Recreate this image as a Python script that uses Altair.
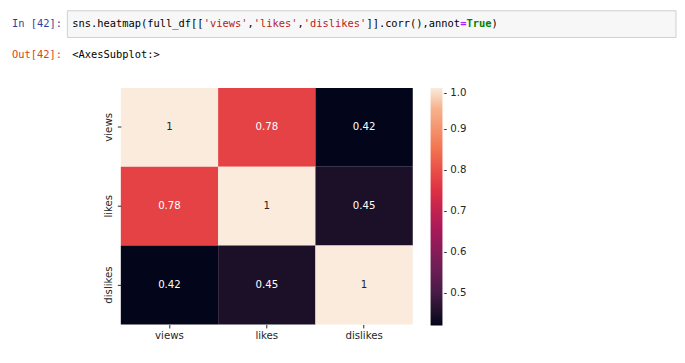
import altair as alt
import pandas as pd

# ---- data ----
cols = ["views", "likes", "dislikes"]
corr_views = [1.0, 0.78, 0.42]
corr_likes = [0.78, 1.0, 0.45]
corr_dislikes = [0.42, 0.45, 1.0]
legend_ticks = [0.5, 0.6, 0.7, 0.8, 0.9, 1.0]

in_prompt = "In [42]:"
out_prompt = "Out[42]:"
out_text = "<AxesSubplot:>"
code_segments = ["sns.heatmap(full_df[[", "'views'", ",", "'likes'", ",",
                 "'dislikes'", "]].corr(),annot", "=", "True", ")"]
code_kinds = ["plain", "str", "plain", "str", "plain", "str", "plain", "op", "kw", "plain"]

rows = []
for r, vals in zip(cols, [corr_views, corr_likes, corr_dislikes]):
    for c, v in zip(cols, vals):
        rows.append({"row": r, "col": c, "value": v})
df = pd.DataFrame(rows)

# ---- rocket colormap ----
rocket = ["#03051A", "#1A1027", "#35193E", "#701F57", "#AD1759", "#E13342",
          "#F37651", "#F6B48F", "#FAEBDD"]
stops = [0, 0.05, 1 / 12, 3 / 12, 5 / 12, 7 / 12, 9 / 12, 11 / 12, 1]
lo, hi = float(df["value"].min()), float(df["value"].max())
domain = [lo + p * (hi - lo) for p in stops]

FONT = "DejaVu Sans"
MONO = "DejaVu Sans Mono"
FS = 10.3
TXT = "#262626"

base = alt.Chart(df).encode(
    x=alt.X("col:N", sort=cols, title=None,
            scale=alt.Scale(paddingInner=0, paddingOuter=0),
            axis=alt.Axis(domain=False, grid=False, labelAngle=0, tickSize=3.5,
                          tickColor=TXT, labelColor=TXT, labelFont=FONT,
                          labelFontSize=FS, labelPadding=3)),
    y=alt.Y("row:N", sort=cols, title=None,
            scale=alt.Scale(paddingInner=0, paddingOuter=0),
            axis=alt.Axis(domain=False, grid=False, labelAngle=270,
                          labelAlign="center", labelBaseline="bottom",
                          tickSize=3.5, tickColor=TXT, labelColor=TXT,
                          labelFont=FONT, labelFontSize=FS, labelPadding=4)),
)

cells = base.mark_rect(strokeWidth=0).encode(
    color=alt.Color("value:Q", title=None,
                    scale=alt.Scale(domain=domain, range=rocket, interpolate="rgb"),
                    legend=alt.Legend(orient="right", offset=18, values=legend_ticks,
                                      gradientLength=240, gradientThickness=12,
                                      gradientStrokeWidth=0, padding=0,
                                      labelExpr="'- ' + format(datum.value, '.1f')",
                                      labelFont=FONT, labelFontSize=FS,
                                      labelColor=TXT, labelBaseline="middle",
                                      labelOffset=1, labelOverlap=False))
)

annot = base.mark_text(font=FONT, fontSize=FS).encode(
    text=alt.Text("value:Q", format=".2~g"),
    color=alt.condition("datum.value > 0.9", alt.value(TXT), alt.value("#FFFFFF")),
)

# ---- notebook chrome ----
dummy = alt.Chart(alt.Data(values=[{"k": 1}]))
box = dummy.mark_rect(fill="#F7F7F7", stroke="#CFCFCF", strokeWidth=1).encode(
    x=alt.value(-54), x2=alt.value(561), y=alt.value(-78), y2=alt.value(-51))

CODE_FS = 10.5
CW = CODE_FS * 0.6021
CODE_X = -49
CODE_Y = -64.5
kind_style = {
    "plain": ("#000000", "normal"),
    "str": ("#BA2121", "normal"),
    "op": ("#AA22FF", "bold"),
    "kw": ("#008000", "bold"),
}

header = [
    dummy.mark_text(align="left", baseline="middle", font=MONO, fontSize=CODE_FS,
                    color="#303F9F").encode(
        x=alt.value(-110), y=alt.value(CODE_Y), text=alt.value(in_prompt)),
    dummy.mark_text(align="left", baseline="middle", font=MONO, fontSize=CODE_FS,
                    color="#D84315").encode(
        x=alt.value(-110), y=alt.value(-33), text=alt.value(out_prompt)),
    dummy.mark_text(align="left", baseline="middle", font=MONO, fontSize=CODE_FS,
                    color="#000000").encode(
        x=alt.value(CODE_X), y=alt.value(-33), text=alt.value(out_text)),
]
idx = 0
for seg, kind in zip(code_segments, code_kinds):
    col, wt = kind_style[kind]
    header.append(
        dummy.mark_text(align="left", baseline="middle", font=MONO, fontSize=CODE_FS,
                        color=col, fontWeight=wt).encode(
            x=alt.value(CODE_X + idx * CW), y=alt.value(CODE_Y), text=alt.value(seg)))
    idx += len(seg)

chart = alt.layer(box, *header, cells, annot).properties(
    width=295, height=239,
    padding={"left": 4, "top": 0, "right": 0, "bottom": 4},
    background="#FFFFFF",
).configure_view(strokeWidth=0)

chart.save("out.html", embed_options={"renderer": "svg", "actions": False})
